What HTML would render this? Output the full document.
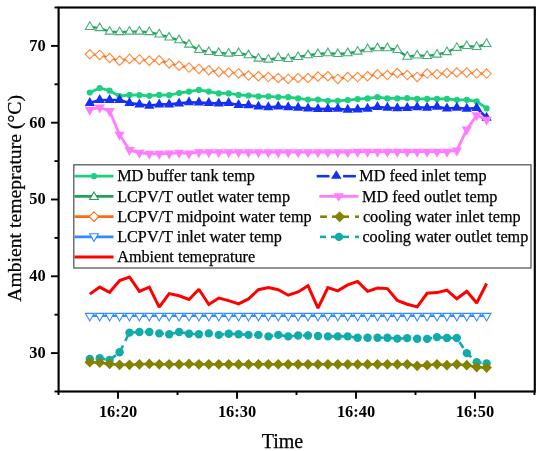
<!DOCTYPE html><html><head><meta charset="utf-8"><style>html,body{margin:0;padding:0;background:#fff;}svg{display:block;will-change:transform;filter:blur(0.35px);}text{font-family:"Liberation Serif",serif;}</style></head><body>
<svg width="550" height="451" viewBox="0 0 550 451">
<rect width="550" height="451" fill="#fff"/>
<polyline points="89.8,26.9 99.7,28.1 109.6,31.6 119.6,32.1 129.5,31.6 139.4,31.6 149.3,32.1 159.2,34.4 169.2,37.5 179.1,40.2 189.0,44.6 198.9,50.0 208.8,52.0 218.8,53.0 228.7,53.6 238.6,53.0 248.5,55.2 258.4,58.6 268.4,59.6 278.3,58.0 288.2,58.9 298.1,57.0 308.0,55.2 318.0,54.0 327.9,53.2 337.8,54.0 347.7,53.2 357.6,51.6 367.6,49.2 377.5,48.2 387.4,48.2 397.3,50.0 407.2,56.7 417.2,55.4 427.1,55.9 437.0,54.6 446.9,52.1 456.8,47.8 466.8,46.0 476.7,46.9 486.6,43.9" fill="none" stroke="#23a058" stroke-width="2.4" stroke-linejoin="round"/>
<path d="M89.80,21.83L94.20,29.43L85.40,29.43ZM99.72,23.03L104.12,30.63L95.32,30.63ZM109.64,26.53L114.04,34.13L105.24,34.13ZM119.56,27.03L123.96,34.63L115.16,34.63ZM129.48,26.53L133.88,34.13L125.08,34.13ZM139.40,26.53L143.80,34.13L135.00,34.13ZM149.32,27.03L153.72,34.63L144.92,34.63ZM159.24,29.33L163.64,36.93L154.84,36.93ZM169.16,32.43L173.56,40.03L164.76,40.03ZM179.08,35.13L183.48,42.73L174.68,42.73ZM189.00,39.53L193.40,47.13L184.60,47.13ZM198.92,44.93L203.32,52.53L194.52,52.53ZM208.84,46.93L213.24,54.53L204.44,54.53ZM218.76,47.93L223.16,55.53L214.36,55.53ZM228.68,48.53L233.08,56.13L224.28,56.13ZM238.60,47.93L243.00,55.53L234.20,55.53ZM248.52,50.13L252.92,57.73L244.12,57.73ZM258.44,53.53L262.84,61.13L254.04,61.13ZM268.36,54.53L272.76,62.13L263.96,62.13ZM278.28,52.93L282.68,60.53L273.88,60.53ZM288.20,53.83L292.60,61.43L283.80,61.43ZM298.12,51.93L302.52,59.53L293.72,59.53ZM308.04,50.13L312.44,57.73L303.64,57.73ZM317.96,48.93L322.36,56.53L313.56,56.53ZM327.88,48.13L332.28,55.73L323.48,55.73ZM337.80,48.93L342.20,56.53L333.40,56.53ZM347.72,48.13L352.12,55.73L343.32,55.73ZM357.64,46.53L362.04,54.13L353.24,54.13ZM367.56,44.13L371.96,51.73L363.16,51.73ZM377.48,43.13L381.88,50.73L373.08,50.73ZM387.40,43.13L391.80,50.73L383.00,50.73ZM397.32,44.93L401.72,52.53L392.92,52.53ZM407.24,51.63L411.64,59.23L402.84,59.23ZM417.16,50.33L421.56,57.93L412.76,57.93ZM427.08,50.83L431.48,58.43L422.68,58.43ZM437.00,49.53L441.40,57.13L432.60,57.13ZM446.92,47.03L451.32,54.63L442.52,54.63ZM456.84,42.73L461.24,50.33L452.44,50.33ZM466.76,40.93L471.16,48.53L462.36,48.53ZM476.68,41.83L481.08,49.43L472.28,49.43ZM486.60,38.83L491.00,46.43L482.20,46.43Z" fill="#fff" stroke="#45b077" stroke-width="1.1" stroke-linejoin="miter"/>
<polyline points="89.8,54.3 99.7,54.9 109.6,58.0 119.6,60.7 129.5,58.9 139.4,59.4 149.3,60.7 159.2,60.3 169.2,63.4 179.1,65.8 189.0,67.6 198.9,68.9 208.8,70.2 218.8,72.0 228.7,72.5 238.6,73.4 248.5,75.6 258.4,76.2 268.4,77.1 278.3,78.0 288.2,78.9 298.1,78.0 308.0,78.0 318.0,76.5 327.9,76.2 337.8,78.9 347.7,77.1 357.6,77.1 367.6,76.2 377.5,74.3 387.4,75.1 397.3,73.0 407.2,75.1 417.2,76.9 427.1,73.6 437.0,74.3 446.9,73.0 456.8,72.5 466.8,72.5 476.7,73.6 486.6,73.6" fill="none" stroke="#ff6a10" stroke-width="2.2" stroke-linejoin="round"/>
<path d="M89.80,49.60L94.40,54.30L89.80,59.00L85.20,54.30ZM99.72,50.20L104.32,54.90L99.72,59.60L95.12,54.90ZM109.64,53.30L114.24,58.00L109.64,62.70L105.04,58.00ZM119.56,56.00L124.16,60.70L119.56,65.40L114.96,60.70ZM129.48,54.20L134.08,58.90L129.48,63.60L124.88,58.90ZM139.40,54.70L144.00,59.40L139.40,64.10L134.80,59.40ZM149.32,56.00L153.92,60.70L149.32,65.40L144.72,60.70ZM159.24,55.60L163.84,60.30L159.24,65.00L154.64,60.30ZM169.16,58.70L173.76,63.40L169.16,68.10L164.56,63.40ZM179.08,61.10L183.68,65.80L179.08,70.50L174.48,65.80ZM189.00,62.90L193.60,67.60L189.00,72.30L184.40,67.60ZM198.92,64.20L203.52,68.90L198.92,73.60L194.32,68.90ZM208.84,65.50L213.44,70.20L208.84,74.90L204.24,70.20ZM218.76,67.30L223.36,72.00L218.76,76.70L214.16,72.00ZM228.68,67.80L233.28,72.50L228.68,77.20L224.08,72.50ZM238.60,68.70L243.20,73.40L238.60,78.10L234.00,73.40ZM248.52,70.90L253.12,75.60L248.52,80.30L243.92,75.60ZM258.44,71.50L263.04,76.20L258.44,80.90L253.84,76.20ZM268.36,72.40L272.96,77.10L268.36,81.80L263.76,77.10ZM278.28,73.30L282.88,78.00L278.28,82.70L273.68,78.00ZM288.20,74.20L292.80,78.90L288.20,83.60L283.60,78.90ZM298.12,73.30L302.72,78.00L298.12,82.70L293.52,78.00ZM308.04,73.30L312.64,78.00L308.04,82.70L303.44,78.00ZM317.96,71.80L322.56,76.50L317.96,81.20L313.36,76.50ZM327.88,71.50L332.48,76.20L327.88,80.90L323.28,76.20ZM337.80,74.20L342.40,78.90L337.80,83.60L333.20,78.90ZM347.72,72.40L352.32,77.10L347.72,81.80L343.12,77.10ZM357.64,72.40L362.24,77.10L357.64,81.80L353.04,77.10ZM367.56,71.50L372.16,76.20L367.56,80.90L362.96,76.20ZM377.48,69.60L382.08,74.30L377.48,79.00L372.88,74.30ZM387.40,70.40L392.00,75.10L387.40,79.80L382.80,75.10ZM397.32,68.30L401.92,73.00L397.32,77.70L392.72,73.00ZM407.24,70.40L411.84,75.10L407.24,79.80L402.64,75.10ZM417.16,72.20L421.76,76.90L417.16,81.60L412.56,76.90ZM427.08,68.90L431.68,73.60L427.08,78.30L422.48,73.60ZM437.00,69.60L441.60,74.30L437.00,79.00L432.40,74.30ZM446.92,68.30L451.52,73.00L446.92,77.70L442.32,73.00ZM456.84,67.80L461.44,72.50L456.84,77.20L452.24,72.50ZM466.76,67.80L471.36,72.50L466.76,77.20L462.16,72.50ZM476.68,68.90L481.28,73.60L476.68,78.30L472.08,73.60ZM486.60,68.90L491.20,73.60L486.60,78.30L482.00,73.60Z" fill="#fff" stroke="#ff8838" stroke-width="1.1"/>
<polyline points="89.8,92.5 99.7,88.0 109.6,90.7 119.6,96.2 129.5,94.9 139.4,95.2 149.3,95.8 159.2,94.9 169.2,95.2 179.1,93.0 189.0,91.6 198.9,89.9 208.8,91.6 218.8,93.4 228.7,93.4 238.6,94.9 248.5,95.5 258.4,96.4 268.4,96.4 278.3,97.1 288.2,97.2 298.1,98.4 308.0,99.6 318.0,99.6 327.9,100.8 337.8,100.8 347.7,100.1 357.6,99.1 367.6,98.4 377.5,97.2 387.4,98.4 397.3,98.4 407.2,98.2 417.2,98.9 427.1,98.9 437.0,98.9 446.9,98.9 456.8,99.8 466.8,99.8 476.7,101.4 486.6,108.4" fill="none" stroke="#1dd07f" stroke-width="2.8" stroke-linejoin="round"/>
<circle cx="89.8" cy="92.5" r="3.1" fill="#1dd07f"/><circle cx="99.7" cy="88.0" r="3.1" fill="#1dd07f"/><circle cx="109.6" cy="90.7" r="3.1" fill="#1dd07f"/><circle cx="119.6" cy="96.2" r="3.1" fill="#1dd07f"/><circle cx="129.5" cy="94.9" r="3.1" fill="#1dd07f"/><circle cx="139.4" cy="95.2" r="3.1" fill="#1dd07f"/><circle cx="149.3" cy="95.8" r="3.1" fill="#1dd07f"/><circle cx="159.2" cy="94.9" r="3.1" fill="#1dd07f"/><circle cx="169.2" cy="95.2" r="3.1" fill="#1dd07f"/><circle cx="179.1" cy="93.0" r="3.1" fill="#1dd07f"/><circle cx="189.0" cy="91.6" r="3.1" fill="#1dd07f"/><circle cx="198.9" cy="89.9" r="3.1" fill="#1dd07f"/><circle cx="208.8" cy="91.6" r="3.1" fill="#1dd07f"/><circle cx="218.8" cy="93.4" r="3.1" fill="#1dd07f"/><circle cx="228.7" cy="93.4" r="3.1" fill="#1dd07f"/><circle cx="238.6" cy="94.9" r="3.1" fill="#1dd07f"/><circle cx="248.5" cy="95.5" r="3.1" fill="#1dd07f"/><circle cx="258.4" cy="96.4" r="3.1" fill="#1dd07f"/><circle cx="268.4" cy="96.4" r="3.1" fill="#1dd07f"/><circle cx="278.3" cy="97.1" r="3.1" fill="#1dd07f"/><circle cx="288.2" cy="97.2" r="3.1" fill="#1dd07f"/><circle cx="298.1" cy="98.4" r="3.1" fill="#1dd07f"/><circle cx="308.0" cy="99.6" r="3.1" fill="#1dd07f"/><circle cx="318.0" cy="99.6" r="3.1" fill="#1dd07f"/><circle cx="327.9" cy="100.8" r="3.1" fill="#1dd07f"/><circle cx="337.8" cy="100.8" r="3.1" fill="#1dd07f"/><circle cx="347.7" cy="100.1" r="3.1" fill="#1dd07f"/><circle cx="357.6" cy="99.1" r="3.1" fill="#1dd07f"/><circle cx="367.6" cy="98.4" r="3.1" fill="#1dd07f"/><circle cx="377.5" cy="97.2" r="3.1" fill="#1dd07f"/><circle cx="387.4" cy="98.4" r="3.1" fill="#1dd07f"/><circle cx="397.3" cy="98.4" r="3.1" fill="#1dd07f"/><circle cx="407.2" cy="98.2" r="3.1" fill="#1dd07f"/><circle cx="417.2" cy="98.9" r="3.1" fill="#1dd07f"/><circle cx="427.1" cy="98.9" r="3.1" fill="#1dd07f"/><circle cx="437.0" cy="98.9" r="3.1" fill="#1dd07f"/><circle cx="446.9" cy="98.9" r="3.1" fill="#1dd07f"/><circle cx="456.8" cy="99.8" r="3.1" fill="#1dd07f"/><circle cx="466.8" cy="99.8" r="3.1" fill="#1dd07f"/><circle cx="476.7" cy="101.4" r="3.1" fill="#1dd07f"/><circle cx="486.6" cy="108.4" r="3.1" fill="#1dd07f"/>
<polyline points="89.8,103.0 99.7,100.0 109.6,100.0 119.6,100.0 129.5,103.0 139.4,104.4 149.3,105.8 159.2,104.4 169.2,104.4 179.1,103.4 189.0,102.3 198.9,102.6 208.8,103.1 218.8,103.4 228.7,103.1 238.6,105.1 248.5,105.3 258.4,106.6 268.4,107.3 278.3,106.6 288.2,107.3 298.1,107.7 308.0,108.4 318.0,109.1 327.9,108.9 337.8,108.7 347.7,109.8 357.6,109.4 367.6,108.7 377.5,107.1 387.4,107.7 397.3,108.2 407.2,107.9 417.2,107.2 427.1,107.7 437.0,106.7 446.9,108.6 456.8,107.8 466.8,108.7 476.7,108.0 486.6,117.7" fill="none" stroke="#1530f5" stroke-width="2.6" stroke-linejoin="round"/>
<path d="M89.80,97.00L94.90,106.00L84.70,106.00ZM99.72,94.00L104.82,103.00L94.62,103.00ZM109.64,94.00L114.74,103.00L104.54,103.00ZM119.56,94.00L124.66,103.00L114.46,103.00ZM129.48,97.00L134.58,106.00L124.38,106.00ZM139.40,98.40L144.50,107.40L134.30,107.40ZM149.32,99.80L154.42,108.80L144.22,108.80ZM159.24,98.40L164.34,107.40L154.14,107.40ZM169.16,98.40L174.26,107.40L164.06,107.40ZM179.08,97.40L184.18,106.40L173.98,106.40ZM189.00,96.30L194.10,105.30L183.90,105.30ZM198.92,96.60L204.02,105.60L193.82,105.60ZM208.84,97.10L213.94,106.10L203.74,106.10ZM218.76,97.40L223.86,106.40L213.66,106.40ZM228.68,97.10L233.78,106.10L223.58,106.10ZM238.60,99.10L243.70,108.10L233.50,108.10ZM248.52,99.30L253.62,108.30L243.42,108.30ZM258.44,100.60L263.54,109.60L253.34,109.60ZM268.36,101.30L273.46,110.30L263.26,110.30ZM278.28,100.60L283.38,109.60L273.18,109.60ZM288.20,101.30L293.30,110.30L283.10,110.30ZM298.12,101.70L303.22,110.70L293.02,110.70ZM308.04,102.40L313.14,111.40L302.94,111.40ZM317.96,103.10L323.06,112.10L312.86,112.10ZM327.88,102.90L332.98,111.90L322.78,111.90ZM337.80,102.70L342.90,111.70L332.70,111.70ZM347.72,103.80L352.82,112.80L342.62,112.80ZM357.64,103.40L362.74,112.40L352.54,112.40ZM367.56,102.70L372.66,111.70L362.46,111.70ZM377.48,101.10L382.58,110.10L372.38,110.10ZM387.40,101.70L392.50,110.70L382.30,110.70ZM397.32,102.20L402.42,111.20L392.22,111.20ZM407.24,101.90L412.34,110.90L402.14,110.90ZM417.16,101.20L422.26,110.20L412.06,110.20ZM427.08,101.70L432.18,110.70L421.98,110.70ZM437.00,100.70L442.10,109.70L431.90,109.70ZM446.92,102.60L452.02,111.60L441.82,111.60ZM456.84,101.80L461.94,110.80L451.74,110.80ZM466.76,102.70L471.86,111.70L461.66,111.70ZM476.68,102.00L481.78,111.00L471.58,111.00ZM486.60,111.70L491.70,120.70L481.50,120.70Z" fill="#1530f5" stroke="none"/>
<polyline points="89.8,109.7 99.7,107.5 109.6,111.0 119.6,134.8 129.5,150.0 139.4,152.8 149.3,153.8 159.2,153.8 169.2,153.4 179.1,152.8 189.0,153.4 198.9,152.2 208.8,152.2 218.8,152.2 228.7,152.2 238.6,152.2 248.5,152.2 258.4,152.2 268.4,152.2 278.3,152.2 288.2,152.2 298.1,152.2 308.0,152.2 318.0,152.2 327.9,152.2 337.8,152.2 347.7,152.2 357.6,151.7 367.6,151.7 377.5,151.7 387.4,151.7 397.3,151.7 407.2,151.7 417.2,151.7 427.1,151.7 437.0,151.7 446.9,151.7 456.8,150.4 466.8,129.6 476.7,115.2 486.6,119.8" fill="none" stroke="#ff7cff" stroke-width="2.8" stroke-linejoin="round"/>
<path d="M84.70,106.70L94.90,106.70L89.80,115.70ZM94.62,104.50L104.82,104.50L99.72,113.50ZM104.54,108.00L114.74,108.00L109.64,117.00ZM114.46,131.80L124.66,131.80L119.56,140.80ZM124.38,147.00L134.58,147.00L129.48,156.00ZM134.30,149.80L144.50,149.80L139.40,158.80ZM144.22,150.80L154.42,150.80L149.32,159.80ZM154.14,150.80L164.34,150.80L159.24,159.80ZM164.06,150.40L174.26,150.40L169.16,159.40ZM173.98,149.80L184.18,149.80L179.08,158.80ZM183.90,150.40L194.10,150.40L189.00,159.40ZM193.82,149.20L204.02,149.20L198.92,158.20ZM203.74,149.20L213.94,149.20L208.84,158.20ZM213.66,149.20L223.86,149.20L218.76,158.20ZM223.58,149.20L233.78,149.20L228.68,158.20ZM233.50,149.20L243.70,149.20L238.60,158.20ZM243.42,149.20L253.62,149.20L248.52,158.20ZM253.34,149.20L263.54,149.20L258.44,158.20ZM263.26,149.20L273.46,149.20L268.36,158.20ZM273.18,149.20L283.38,149.20L278.28,158.20ZM283.10,149.20L293.30,149.20L288.20,158.20ZM293.02,149.20L303.22,149.20L298.12,158.20ZM302.94,149.20L313.14,149.20L308.04,158.20ZM312.86,149.20L323.06,149.20L317.96,158.20ZM322.78,149.20L332.98,149.20L327.88,158.20ZM332.70,149.20L342.90,149.20L337.80,158.20ZM342.62,149.20L352.82,149.20L347.72,158.20ZM352.54,148.70L362.74,148.70L357.64,157.70ZM362.46,148.70L372.66,148.70L367.56,157.70ZM372.38,148.70L382.58,148.70L377.48,157.70ZM382.30,148.70L392.50,148.70L387.40,157.70ZM392.22,148.70L402.42,148.70L397.32,157.70ZM402.14,148.70L412.34,148.70L407.24,157.70ZM412.06,148.70L422.26,148.70L417.16,157.70ZM421.98,148.70L432.18,148.70L427.08,157.70ZM431.90,148.70L442.10,148.70L437.00,157.70ZM441.82,148.70L452.02,148.70L446.92,157.70ZM451.74,147.40L461.94,147.40L456.84,156.40ZM461.66,126.60L471.86,126.60L466.76,135.60ZM471.58,112.20L481.78,112.20L476.68,121.20ZM481.50,116.80L491.70,116.80L486.60,125.80Z" fill="#ff7cff" stroke="none"/>
<polyline points="89.8,294.1 99.7,287.1 109.6,292.3 119.6,280.5 129.5,277.0 139.4,291.4 149.3,287.1 159.2,307.2 169.2,293.6 179.1,295.8 189.0,299.5 198.9,289.3 208.8,304.5 218.8,298.0 228.7,300.6 238.6,303.9 248.5,298.9 258.4,289.7 268.4,287.5 278.3,289.7 288.2,295.2 298.1,291.9 308.0,285.7 318.0,308.2 327.9,287.5 337.8,290.8 347.7,284.9 357.6,281.4 367.6,291.4 377.5,288.0 387.4,288.6 397.3,300.4 407.2,304.2 417.2,306.9 427.1,293.3 437.0,292.6 446.9,290.2 456.8,298.8 466.8,291.2 476.7,303.0 486.6,283.5" fill="none" stroke="#ff0000" stroke-width="3" stroke-linejoin="miter" stroke-miterlimit="1.6"/>
<polyline points="89.8,315.9 99.7,315.9 109.6,315.9 119.6,315.9 129.5,315.9 139.4,315.9 149.3,315.9 159.2,315.9 169.2,315.9 179.1,315.9 189.0,315.9 198.9,315.9 208.8,315.9 218.8,315.9 228.7,315.9 238.6,315.9 248.5,315.9 258.4,315.9 268.4,315.9 278.3,315.9 288.2,315.9 298.1,315.9 308.0,315.9 318.0,315.9 327.9,315.9 337.8,315.9 347.7,315.9 357.6,315.9 367.6,315.9 377.5,315.9 387.4,315.9 397.3,315.9 407.2,315.9 417.2,315.9 427.1,315.9 437.0,315.9 446.9,315.9 456.8,315.9 466.8,315.9 476.7,315.9 486.6,315.9" fill="none" stroke="#2f8cff" stroke-width="2.4"/>
<path d="M85.40,313.37L94.20,313.37L89.80,320.97ZM95.32,313.37L104.12,313.37L99.72,320.97ZM105.24,313.37L114.04,313.37L109.64,320.97ZM115.16,313.37L123.96,313.37L119.56,320.97ZM125.08,313.37L133.88,313.37L129.48,320.97ZM135.00,313.37L143.80,313.37L139.40,320.97ZM144.92,313.37L153.72,313.37L149.32,320.97ZM154.84,313.37L163.64,313.37L159.24,320.97ZM164.76,313.37L173.56,313.37L169.16,320.97ZM174.68,313.37L183.48,313.37L179.08,320.97ZM184.60,313.37L193.40,313.37L189.00,320.97ZM194.52,313.37L203.32,313.37L198.92,320.97ZM204.44,313.37L213.24,313.37L208.84,320.97ZM214.36,313.37L223.16,313.37L218.76,320.97ZM224.28,313.37L233.08,313.37L228.68,320.97ZM234.20,313.37L243.00,313.37L238.60,320.97ZM244.12,313.37L252.92,313.37L248.52,320.97ZM254.04,313.37L262.84,313.37L258.44,320.97ZM263.96,313.37L272.76,313.37L268.36,320.97ZM273.88,313.37L282.68,313.37L278.28,320.97ZM283.80,313.37L292.60,313.37L288.20,320.97ZM293.72,313.37L302.52,313.37L298.12,320.97ZM303.64,313.37L312.44,313.37L308.04,320.97ZM313.56,313.37L322.36,313.37L317.96,320.97ZM323.48,313.37L332.28,313.37L327.88,320.97ZM333.40,313.37L342.20,313.37L337.80,320.97ZM343.32,313.37L352.12,313.37L347.72,320.97ZM353.24,313.37L362.04,313.37L357.64,320.97ZM363.16,313.37L371.96,313.37L367.56,320.97ZM373.08,313.37L381.88,313.37L377.48,320.97ZM383.00,313.37L391.80,313.37L387.40,320.97ZM392.92,313.37L401.72,313.37L397.32,320.97ZM402.84,313.37L411.64,313.37L407.24,320.97ZM412.76,313.37L421.56,313.37L417.16,320.97ZM422.68,313.37L431.48,313.37L427.08,320.97ZM432.60,313.37L441.40,313.37L437.00,320.97ZM442.52,313.37L451.32,313.37L446.92,320.97ZM452.44,313.37L461.24,313.37L456.84,320.97ZM462.36,313.37L471.16,313.37L466.76,320.97ZM472.28,313.37L481.08,313.37L476.68,320.97ZM482.20,313.37L491.00,313.37L486.60,320.97Z" fill="#fff" stroke="#2f8cff" stroke-width="1.1"/>
<polyline points="89.8,358.9 99.7,358.2 109.6,360.0 119.6,352.3 129.5,332.6 139.4,332.0 149.3,332.0 159.2,333.4 169.2,334.2 179.1,332.0 189.0,333.8 198.9,334.2 208.8,333.4 218.8,334.9 228.7,333.8 238.6,334.2 248.5,334.9 258.4,334.9 268.4,336.4 278.3,334.9 288.2,336.4 298.1,335.5 308.0,335.5 318.0,336.0 327.9,336.4 337.8,336.4 347.7,336.4 357.6,337.7 367.6,337.7 377.5,337.7 387.4,337.7 397.3,338.6 407.2,338.1 417.2,338.8 427.1,338.9 437.0,337.1 446.9,338.0 456.8,338.0 466.8,353.1 476.7,362.2 486.6,363.4" fill="none" stroke="#12abab" stroke-width="2.6" stroke-dasharray="7.25 5" stroke-dashoffset="3.75"/>
<circle cx="89.8" cy="358.9" r="4.2" fill="#12abab"/><circle cx="99.7" cy="358.2" r="4.2" fill="#12abab"/><circle cx="109.6" cy="360.0" r="4.2" fill="#12abab"/><circle cx="119.6" cy="352.3" r="4.2" fill="#12abab"/><circle cx="129.5" cy="332.6" r="4.2" fill="#12abab"/><circle cx="139.4" cy="332.0" r="4.2" fill="#12abab"/><circle cx="149.3" cy="332.0" r="4.2" fill="#12abab"/><circle cx="159.2" cy="333.4" r="4.2" fill="#12abab"/><circle cx="169.2" cy="334.2" r="4.2" fill="#12abab"/><circle cx="179.1" cy="332.0" r="4.2" fill="#12abab"/><circle cx="189.0" cy="333.8" r="4.2" fill="#12abab"/><circle cx="198.9" cy="334.2" r="4.2" fill="#12abab"/><circle cx="208.8" cy="333.4" r="4.2" fill="#12abab"/><circle cx="218.8" cy="334.9" r="4.2" fill="#12abab"/><circle cx="228.7" cy="333.8" r="4.2" fill="#12abab"/><circle cx="238.6" cy="334.2" r="4.2" fill="#12abab"/><circle cx="248.5" cy="334.9" r="4.2" fill="#12abab"/><circle cx="258.4" cy="334.9" r="4.2" fill="#12abab"/><circle cx="268.4" cy="336.4" r="4.2" fill="#12abab"/><circle cx="278.3" cy="334.9" r="4.2" fill="#12abab"/><circle cx="288.2" cy="336.4" r="4.2" fill="#12abab"/><circle cx="298.1" cy="335.5" r="4.2" fill="#12abab"/><circle cx="308.0" cy="335.5" r="4.2" fill="#12abab"/><circle cx="318.0" cy="336.0" r="4.2" fill="#12abab"/><circle cx="327.9" cy="336.4" r="4.2" fill="#12abab"/><circle cx="337.8" cy="336.4" r="4.2" fill="#12abab"/><circle cx="347.7" cy="336.4" r="4.2" fill="#12abab"/><circle cx="357.6" cy="337.7" r="4.2" fill="#12abab"/><circle cx="367.6" cy="337.7" r="4.2" fill="#12abab"/><circle cx="377.5" cy="337.7" r="4.2" fill="#12abab"/><circle cx="387.4" cy="337.7" r="4.2" fill="#12abab"/><circle cx="397.3" cy="338.6" r="4.2" fill="#12abab"/><circle cx="407.2" cy="338.1" r="4.2" fill="#12abab"/><circle cx="417.2" cy="338.8" r="4.2" fill="#12abab"/><circle cx="427.1" cy="338.9" r="4.2" fill="#12abab"/><circle cx="437.0" cy="337.1" r="4.2" fill="#12abab"/><circle cx="446.9" cy="338.0" r="4.2" fill="#12abab"/><circle cx="456.8" cy="338.0" r="4.2" fill="#12abab"/><circle cx="466.8" cy="353.1" r="4.2" fill="#12abab"/><circle cx="476.7" cy="362.2" r="4.2" fill="#12abab"/><circle cx="486.6" cy="363.4" r="4.2" fill="#12abab"/>
<g stroke="#858200" stroke-width="2.6" stroke-dasharray="7 5" fill="none"><line x1="89.8" y1="362.2" x2="99.7" y2="362.6"/><line x1="99.7" y1="362.6" x2="109.6" y2="363.9"/><line x1="109.6" y1="363.9" x2="119.6" y2="364.8"/><line x1="119.6" y1="364.8" x2="129.5" y2="364.8"/><line x1="129.5" y1="364.8" x2="139.4" y2="364.3"/><line x1="139.4" y1="364.3" x2="149.3" y2="363.9"/><line x1="149.3" y1="363.9" x2="159.2" y2="364.3"/><line x1="159.2" y1="364.3" x2="169.2" y2="364.3"/><line x1="169.2" y1="364.3" x2="179.1" y2="364.3"/><line x1="179.1" y1="364.3" x2="189.0" y2="363.9"/><line x1="189.0" y1="363.9" x2="198.9" y2="364.3"/><line x1="198.9" y1="364.3" x2="208.8" y2="364.3"/><line x1="208.8" y1="364.3" x2="218.8" y2="364.3"/><line x1="218.8" y1="364.3" x2="228.7" y2="364.3"/><line x1="228.7" y1="364.3" x2="238.6" y2="364.3"/><line x1="238.6" y1="364.3" x2="248.5" y2="364.3"/><line x1="248.5" y1="364.3" x2="258.4" y2="364.3"/><line x1="258.4" y1="364.3" x2="268.4" y2="364.3"/><line x1="268.4" y1="364.3" x2="278.3" y2="364.3"/><line x1="278.3" y1="364.3" x2="288.2" y2="364.3"/><line x1="288.2" y1="364.3" x2="298.1" y2="364.3"/><line x1="298.1" y1="364.3" x2="308.0" y2="364.3"/><line x1="308.0" y1="364.3" x2="318.0" y2="364.3"/><line x1="318.0" y1="364.3" x2="327.9" y2="364.3"/><line x1="327.9" y1="364.3" x2="337.8" y2="364.3"/><line x1="337.8" y1="364.3" x2="347.7" y2="364.3"/><line x1="347.7" y1="364.3" x2="357.6" y2="364.3"/><line x1="357.6" y1="364.3" x2="367.6" y2="364.3"/><line x1="367.6" y1="364.3" x2="377.5" y2="364.3"/><line x1="377.5" y1="364.3" x2="387.4" y2="364.3"/><line x1="387.4" y1="364.3" x2="397.3" y2="364.3"/><line x1="397.3" y1="364.3" x2="407.2" y2="364.3"/><line x1="407.2" y1="364.3" x2="417.2" y2="365.8"/><line x1="417.2" y1="365.8" x2="427.1" y2="365.2"/><line x1="427.1" y1="365.2" x2="437.0" y2="364.3"/><line x1="437.0" y1="364.3" x2="446.9" y2="365.2"/><line x1="446.9" y1="365.2" x2="456.8" y2="364.3"/><line x1="456.8" y1="364.3" x2="466.8" y2="365.2"/><line x1="466.8" y1="365.2" x2="476.7" y2="367.1"/><line x1="476.7" y1="367.1" x2="486.6" y2="367.6"/></g>
<path d="M89.80,356.80L95.10,362.20L89.80,367.60L84.50,362.20ZM99.72,357.20L105.02,362.60L99.72,368.00L94.42,362.60ZM109.64,358.50L114.94,363.90L109.64,369.30L104.34,363.90ZM119.56,359.40L124.86,364.80L119.56,370.20L114.26,364.80ZM129.48,359.40L134.78,364.80L129.48,370.20L124.18,364.80ZM139.40,358.90L144.70,364.30L139.40,369.70L134.10,364.30ZM149.32,358.50L154.62,363.90L149.32,369.30L144.02,363.90ZM159.24,358.90L164.54,364.30L159.24,369.70L153.94,364.30ZM169.16,358.90L174.46,364.30L169.16,369.70L163.86,364.30ZM179.08,358.90L184.38,364.30L179.08,369.70L173.78,364.30ZM189.00,358.50L194.30,363.90L189.00,369.30L183.70,363.90ZM198.92,358.90L204.22,364.30L198.92,369.70L193.62,364.30ZM208.84,358.90L214.14,364.30L208.84,369.70L203.54,364.30ZM218.76,358.90L224.06,364.30L218.76,369.70L213.46,364.30ZM228.68,358.90L233.98,364.30L228.68,369.70L223.38,364.30ZM238.60,358.90L243.90,364.30L238.60,369.70L233.30,364.30ZM248.52,358.90L253.82,364.30L248.52,369.70L243.22,364.30ZM258.44,358.90L263.74,364.30L258.44,369.70L253.14,364.30ZM268.36,358.90L273.66,364.30L268.36,369.70L263.06,364.30ZM278.28,358.90L283.58,364.30L278.28,369.70L272.98,364.30ZM288.20,358.90L293.50,364.30L288.20,369.70L282.90,364.30ZM298.12,358.90L303.42,364.30L298.12,369.70L292.82,364.30ZM308.04,358.90L313.34,364.30L308.04,369.70L302.74,364.30ZM317.96,358.90L323.26,364.30L317.96,369.70L312.66,364.30ZM327.88,358.90L333.18,364.30L327.88,369.70L322.58,364.30ZM337.80,358.90L343.10,364.30L337.80,369.70L332.50,364.30ZM347.72,358.90L353.02,364.30L347.72,369.70L342.42,364.30ZM357.64,358.90L362.94,364.30L357.64,369.70L352.34,364.30ZM367.56,358.90L372.86,364.30L367.56,369.70L362.26,364.30ZM377.48,358.90L382.78,364.30L377.48,369.70L372.18,364.30ZM387.40,358.90L392.70,364.30L387.40,369.70L382.10,364.30ZM397.32,358.90L402.62,364.30L397.32,369.70L392.02,364.30ZM407.24,358.90L412.54,364.30L407.24,369.70L401.94,364.30ZM417.16,360.40L422.46,365.80L417.16,371.20L411.86,365.80ZM427.08,359.80L432.38,365.20L427.08,370.60L421.78,365.20ZM437.00,358.90L442.30,364.30L437.00,369.70L431.70,364.30ZM446.92,359.80L452.22,365.20L446.92,370.60L441.62,365.20ZM456.84,358.90L462.14,364.30L456.84,369.70L451.54,364.30ZM466.76,359.80L472.06,365.20L466.76,370.60L461.46,365.20ZM476.68,361.70L481.98,367.10L476.68,372.50L471.38,367.10ZM486.60,362.20L491.90,367.60L486.60,373.00L481.30,367.60Z" fill="#858200" stroke="none"/>
<rect x="73.8" y="164.8" width="457.2" height="103.2" fill="#fff" stroke="#5a5a5a" stroke-width="1.3"/>
<line x1="74.5" y1="176.2" x2="113.5" y2="176.2" stroke="#1dd07f" stroke-width="2.8"/>
<circle cx="94" cy="176.2" r="3.1" fill="#1dd07f"/>
<line x1="74.5" y1="196.4" x2="113.5" y2="196.4" stroke="#23a058" stroke-width="2.8"/>
<path d="M94.00,191.93L98.40,199.53L89.60,199.53Z" fill="#fff" stroke="#23a058" stroke-width="1.1"/>
<line x1="74.5" y1="216.7" x2="113.5" y2="216.7" stroke="#ff6a10" stroke-width="2.8"/>
<path d="M94.00,211.90L98.80,216.70L94.00,221.50L89.20,216.70Z" fill="#fff" stroke="#ff6a10" stroke-width="1.1"/>
<line x1="74.5" y1="236.9" x2="113.5" y2="236.9" stroke="#2f8cff" stroke-width="2.8"/>
<path d="M89.60,233.77L98.40,233.77L94.00,241.37Z" fill="#fff" stroke="#2f8cff" stroke-width="1.1"/>
<line x1="74.5" y1="257.1" x2="113.5" y2="257.1" stroke="#ff0000" stroke-width="3"/>
<text x="117.2" y="181.3" font-size="16.2" fill="#000" stroke="#000" stroke-width="0.25">MD buffer tank temp</text>
<text x="117.2" y="201.5" font-size="16.2" fill="#000" stroke="#000" stroke-width="0.25">LCPV/T outlet water temp</text>
<text x="117.2" y="221.7" font-size="16.2" fill="#000" stroke="#000" stroke-width="0.25">LCPV/T midpoint water temp</text>
<text x="117.2" y="241.9" font-size="16.2" fill="#000" stroke="#000" stroke-width="0.25">LCPV/T inlet water temp</text>
<text x="117.2" y="262.1" font-size="16.2" fill="#000" stroke="#000" stroke-width="0.25">Ambient temeprature</text>
<line x1="316.7" y1="176.2" x2="329.5" y2="176.2" stroke="#1530f5" stroke-width="2.6"/>
<line x1="343.1" y1="176.2" x2="355.9" y2="176.2" stroke="#1530f5" stroke-width="2.6"/>
<path d="M336.30,170.27L341.60,178.87L331.00,178.87Z" fill="#1530f5"/>
<line x1="319.3" y1="196.4" x2="358.4" y2="196.4" stroke="#ff7cff" stroke-width="2.8"/>
<path d="M333.50,193.13L344.10,193.13L338.80,201.73Z" fill="#ff7cff"/>
<line x1="320.1" y1="216.7" x2="326.9" y2="216.7" stroke="#858200" stroke-width="2.6"/>
<line x1="332" y1="216.7" x2="349" y2="216.7" stroke="#858200" stroke-width="2.6"/>
<line x1="355" y1="216.7" x2="359" y2="216.7" stroke="#858200" stroke-width="2.6"/>
<path d="M339.70,211.20L345.20,216.70L339.70,222.20L334.20,216.70Z" fill="#858200"/>
<line x1="320" y1="236.9" x2="326" y2="236.9" stroke="#12abab" stroke-width="2.6"/>
<line x1="331" y1="236.9" x2="349" y2="236.9" stroke="#12abab" stroke-width="2.6"/>
<line x1="355" y1="236.9" x2="359" y2="236.9" stroke="#12abab" stroke-width="2.6"/>
<circle cx="339" cy="236.9" r="4.2" fill="#12abab"/>
<text x="359.3" y="181.3" font-size="16.2" fill="#000" stroke="#000" stroke-width="0.25">MD feed inlet temp</text>
<text x="362.1" y="201.5" font-size="16.2" fill="#000" stroke="#000" stroke-width="0.25">MD feed outlet temp</text>
<text x="362.9" y="221.7" font-size="16.2" fill="#000" stroke="#000" stroke-width="0.25">cooling water inlet temp</text>
<text x="362.4" y="241.9" font-size="16.2" fill="#000" stroke="#000" stroke-width="0.25">cooling water outlet temp</text>
<g stroke="#000" stroke-linecap="butt">
<rect x="58.6" y="7.5" width="476.2" height="384" fill="none" stroke-width="2.15"/>
<line x1="54.5" y1="391.5" x2="58.6" y2="391.5" stroke-width="1.9"/>
<line x1="51" y1="353.1" x2="58.6" y2="353.1" stroke-width="1.9"/>
<line x1="54.5" y1="314.7" x2="58.6" y2="314.7" stroke-width="1.9"/>
<line x1="51" y1="276.3" x2="58.6" y2="276.3" stroke-width="1.9"/>
<line x1="54.5" y1="237.9" x2="58.6" y2="237.9" stroke-width="1.9"/>
<line x1="51" y1="199.5" x2="58.6" y2="199.5" stroke-width="1.9"/>
<line x1="54.5" y1="161.1" x2="58.6" y2="161.1" stroke-width="1.9"/>
<line x1="51" y1="122.7" x2="58.6" y2="122.7" stroke-width="1.9"/>
<line x1="54.5" y1="84.3" x2="58.6" y2="84.3" stroke-width="1.9"/>
<line x1="51" y1="45.9" x2="58.6" y2="45.9" stroke-width="1.9"/>
<line x1="54.5" y1="7.5" x2="58.6" y2="7.5" stroke-width="1.9"/>
<line x1="58.5" y1="391.5" x2="58.5" y2="395" stroke-width="1.9"/>
<line x1="118.0" y1="391.5" x2="118.0" y2="398.8" stroke-width="1.9"/>
<line x1="177.5" y1="391.5" x2="177.5" y2="395" stroke-width="1.9"/>
<line x1="237.0" y1="391.5" x2="237.0" y2="398.8" stroke-width="1.9"/>
<line x1="296.5" y1="391.5" x2="296.5" y2="395" stroke-width="1.9"/>
<line x1="356.0" y1="391.5" x2="356.0" y2="398.8" stroke-width="1.9"/>
<line x1="415.5" y1="391.5" x2="415.5" y2="395" stroke-width="1.9"/>
<line x1="475.0" y1="391.5" x2="475.0" y2="398.8" stroke-width="1.9"/>
<line x1="534.5" y1="391.5" x2="534.5" y2="395" stroke-width="1.9"/>
</g>
<text x="45.6" y="357.9" font-size="16.4" font-weight="bold" text-anchor="end" fill="#000">30</text>
<text x="45.6" y="281.1" font-size="16.4" font-weight="bold" text-anchor="end" fill="#000">40</text>
<text x="45.6" y="204.3" font-size="16.4" font-weight="bold" text-anchor="end" fill="#000">50</text>
<text x="45.6" y="127.5" font-size="16.4" font-weight="bold" text-anchor="end" fill="#000">60</text>
<text x="45.6" y="50.7" font-size="16.4" font-weight="bold" text-anchor="end" fill="#000">70</text>
<text x="118.0" y="416.7" font-size="16.4" font-weight="bold" text-anchor="middle" fill="#000">16:20</text>
<text x="237.0" y="416.7" font-size="16.4" font-weight="bold" text-anchor="middle" fill="#000">16:30</text>
<text x="356.0" y="416.7" font-size="16.4" font-weight="bold" text-anchor="middle" fill="#000">16:40</text>
<text x="475.0" y="416.7" font-size="16.4" font-weight="bold" text-anchor="middle" fill="#000">16:50</text>
<text x="282.5" y="447.9" font-size="20" text-anchor="middle" fill="#000" stroke="#000" stroke-width="0.25">Time</text>
<text transform="translate(21.0,198.4) rotate(-90)" x="0" y="0" font-size="19.7" text-anchor="middle" fill="#000" stroke="#000" stroke-width="0.25">Ambient temeprature (°C)</text>
</svg></body></html>
